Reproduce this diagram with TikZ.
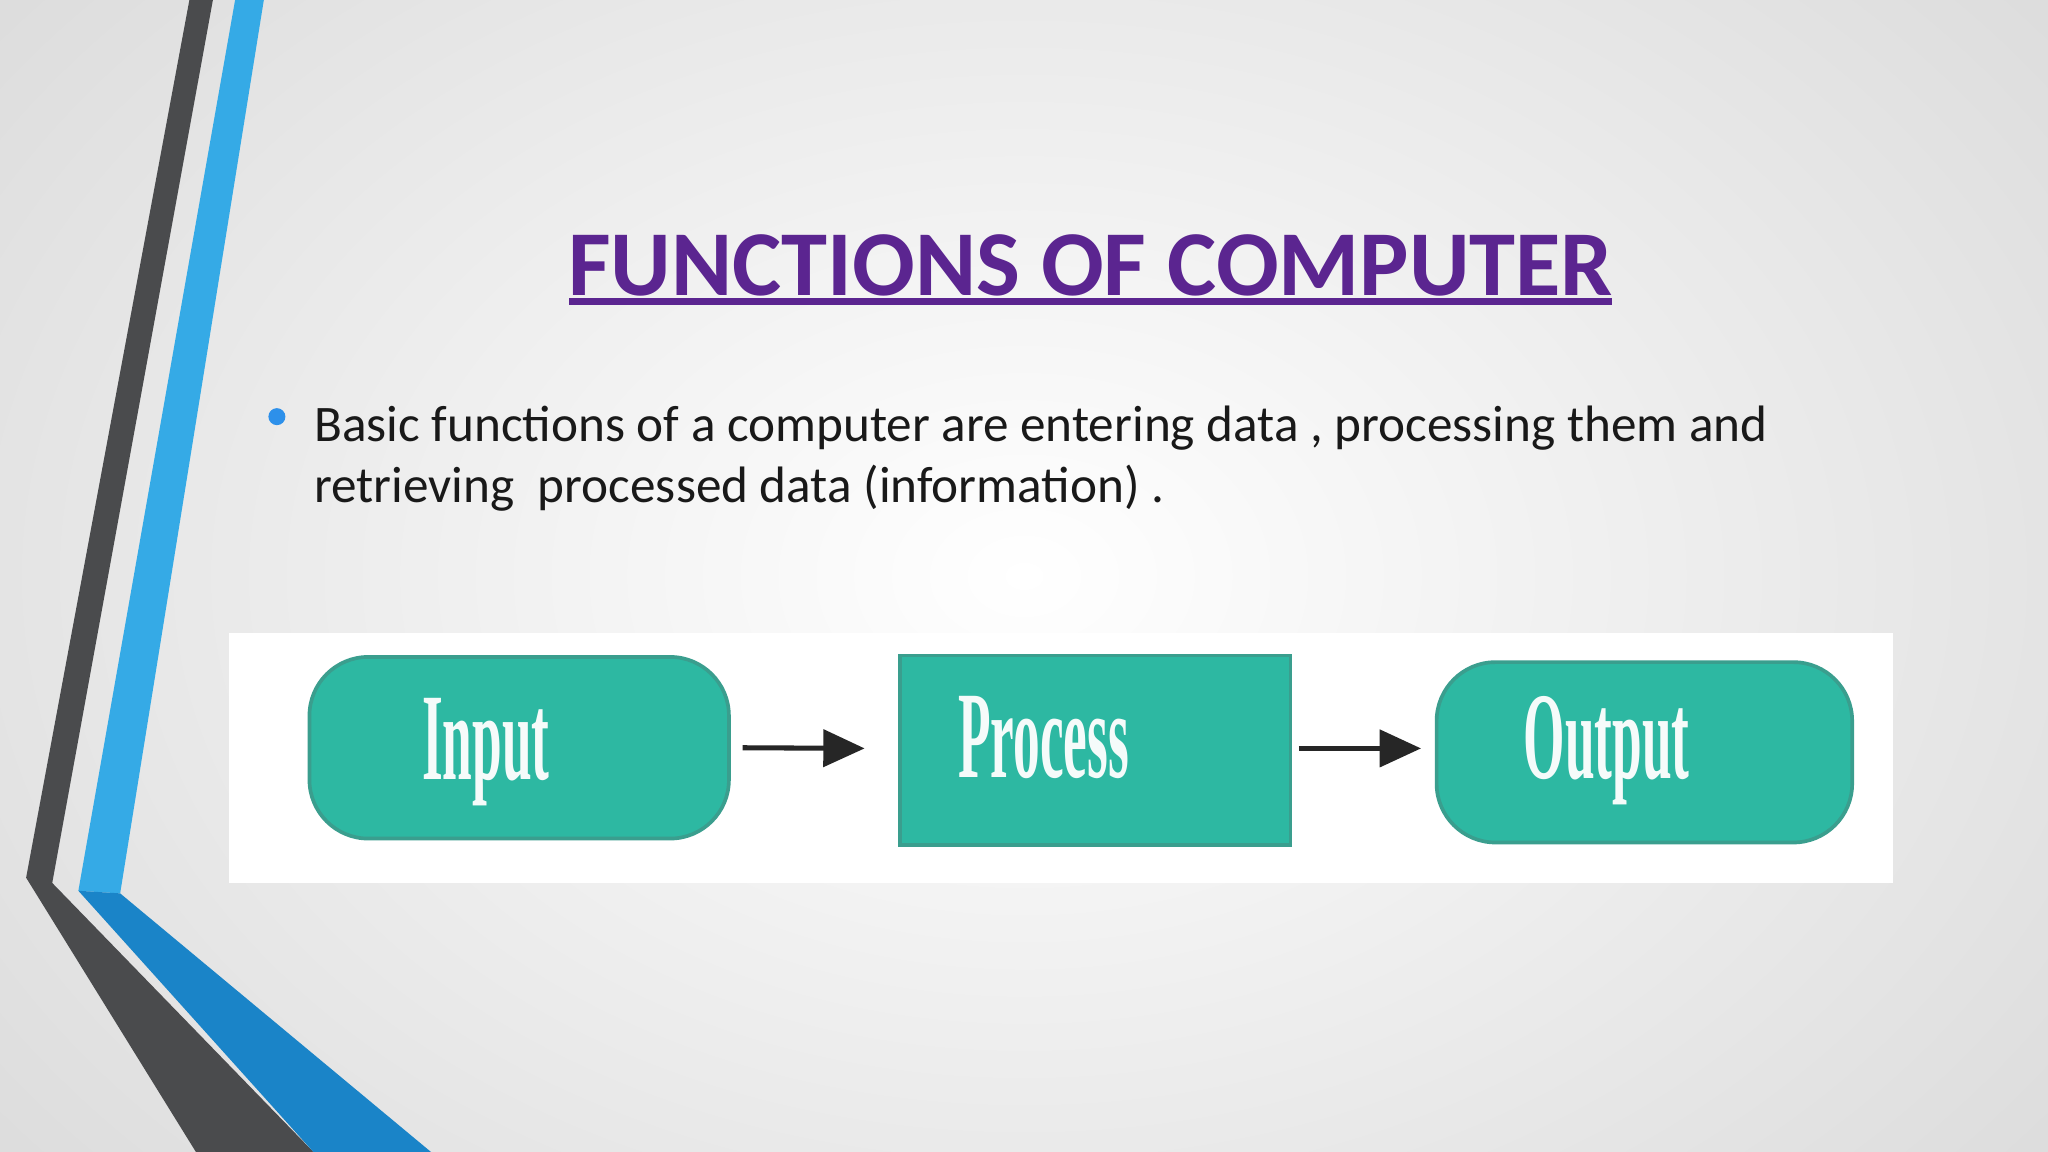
\documentclass[tikz,border=0pt]{standalone}
\usepackage{fontspec}
\setmainfont{Carlito}
\newfontfamily\boxfont{Liberation Serif}
\usetikzlibrary{arrows.meta}
\definecolor{ttl}{HTML}{5B2590}
\definecolor{teal1}{HTML}{2DB8A2}
\definecolor{tealb}{HTML}{3A9E8E}
\definecolor{dgray}{HTML}{4A4B4D}
\definecolor{lblue}{HTML}{35AAE6}
\definecolor{dblue}{HTML}{1A84C8}
\begin{document}
\begin{tikzpicture}[x=0.01cm,y=-0.01cm,
  stage/.style={fill=teal1,draw=tealb,line width=0.8pt,inner sep=0},
  stagetxt/.style={text=white!95!teal1,font=\boxfont\bfseries\fontsize{27}{27}\selectfont,xscale=0.43,yscale=1.0},
  flow/.style={-{Triangle[length=9pt,width=8pt]},line width=1.1pt,black!85}]
\useasboundingbox (0,0) rectangle (1568,882);
\fill[gray!25] (0,0) rectangle (1568,882);
\shade[inner color=white,outer color=gray!28,shading=radial] (-250,-300) rectangle (1818,1182);
% left decoration
\fill[dgray] (145,0) -- (163,0) -- (40,676) -- (240,882) -- (150,882) -- (20,672) -- cycle;
\fill[lblue] (180,0) -- (202,0) -- (92,684) -- (60,682) -- cycle;
\fill[dblue] (60,682) -- (92,684) -- (330,882) -- (240,882) -- cycle;
% title
\node[text=ttl,font=\bfseries\fontsize{20.2}{24}\selectfont] (title) at (835,203) {FUNCTIONS OF COMPUTER};
\draw[ttl,line width=1.5pt] (436,231) -- (1234,231);
% bullet
\node[circle,fill=lblue!85!blue,inner sep=0,minimum size=0.13cm] (bul) at (212,319) {};
\node[anchor=base west,inner sep=0,font=\fontsize{11.15}{13.4}\selectfont,text=black!90] (body1) at (240,338)
  {Basic functions of a computer are entering data , processing them and};
\node[anchor=base west,inner sep=0,font=\fontsize{11.15}{13.4}\selectfont,text=black!90] (body2) at (240,385)
  {retrieving\ \ processed data (information) .};
% image panel
\fill[white] (175,485) rectangle (1449,676);
\node[stage,rounded corners=0.45cm,minimum width=3.21cm,minimum height=1.39cm] (in) at (397.5,572.5) {};
\node[stage,minimum width=2.99cm,minimum height=1.45cm] (pr) at (838.5,574.5) {};
\node[stage,rounded corners=0.45cm,minimum width=3.18cm,minimum height=1.38cm] (out) at (1259,576) {};
\node[stagetxt] at (372,576) {Input};
\node[stagetxt] at (799,565) {Process};
\node[stagetxt] at (1230,575) {Output};
\draw[flow] (in.east) ++(9,0) coordinate (a1) -- (662,573) coordinate (a2);
\draw[flow] (pr.east) ++(5,-1.5) coordinate (b1) -- (1088,573) coordinate (b2);
\end{tikzpicture}
\end{document}
